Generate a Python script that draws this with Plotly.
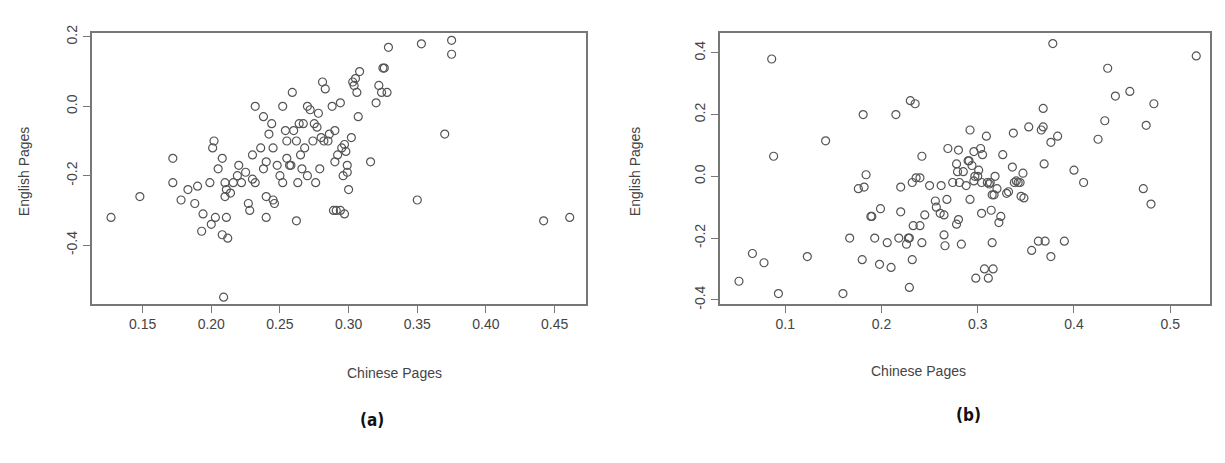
import plotly.graph_objects as go

a_x = [0.127,0.148,0.172,0.172,0.178,0.183,0.188,0.19,0.194,0.193,0.199,0.2,0.203,0.201,0.202,0.205,0.208,0.208,0.21,0.21,0.211,0.212,0.211,0.209,0.214,0.216,0.219,0.22,0.222,0.225,0.227,0.228,0.23,0.23,0.232,0.232,0.236,0.238,0.24,0.24,0.24,0.238,0.242,0.244,0.245,0.245,0.246,0.248,0.25,0.252,0.252,0.254,0.255,0.255,0.257,0.258,0.259,0.26,0.262,0.262,0.263,0.264,0.265,0.266,0.267,0.268,0.27,0.27,0.272,0.274,0.275,0.276,0.277,0.278,0.279,0.28,0.281,0.282,0.283,0.285,0.286,0.288,0.289,0.29,0.291,0.29,0.292,0.294,0.294,0.295,0.296,0.297,0.297,0.298,0.299,0.299,0.3,0.302,0.303,0.304,0.305,0.306,0.307,0.308,0.316,0.32,0.322,0.324,0.325,0.326,0.328,0.329,0.35,0.353,0.37,0.375,0.375,0.442,0.461]
a_y = [-0.32,-0.26,-0.15,-0.22,-0.27,-0.24,-0.28,-0.23,-0.31,-0.36,-0.22,-0.34,-0.32,-0.12,-0.1,-0.18,-0.15,-0.37,-0.22,-0.26,-0.32,-0.38,-0.24,-0.55,-0.25,-0.22,-0.2,-0.17,-0.22,-0.19,-0.28,-0.3,-0.21,-0.14,0.0,-0.22,-0.12,-0.18,-0.32,-0.26,-0.16,-0.03,-0.08,-0.05,-0.12,-0.27,-0.28,-0.17,-0.2,0.0,-0.22,-0.07,-0.15,-0.1,-0.17,-0.17,0.04,-0.07,-0.1,-0.33,-0.22,-0.05,-0.14,-0.18,-0.05,-0.12,-0.2,0.0,-0.01,-0.1,-0.05,-0.22,-0.06,-0.02,-0.18,-0.09,0.07,-0.1,0.05,-0.1,-0.08,0.0,-0.3,-0.07,-0.3,-0.16,-0.14,0.01,-0.3,-0.12,-0.2,-0.11,-0.31,-0.13,-0.17,-0.19,-0.24,-0.09,0.07,0.06,0.08,0.04,-0.03,0.1,-0.16,0.01,0.06,0.04,0.11,0.11,0.04,0.17,-0.27,0.18,-0.08,0.19,0.15,-0.33,-0.32]

b_x = [0.052,0.066,0.078,0.086,0.088,0.093,0.123,0.142,0.16,0.167,0.176,0.18,0.181,0.182,0.184,0.189,0.19,0.193,0.198,0.199,0.206,0.21,0.215,0.218,0.22,0.22,0.226,0.228,0.229,0.229,0.23,0.232,0.232,0.233,0.235,0.236,0.24,0.242,0.24,0.242,0.245,0.25,0.256,0.257,0.261,0.262,0.265,0.265,0.266,0.268,0.269,0.274,0.278,0.278,0.279,0.28,0.28,0.281,0.283,0.285,0.288,0.29,0.291,0.292,0.292,0.294,0.296,0.296,0.297,0.298,0.3,0.301,0.303,0.304,0.304,0.305,0.307,0.309,0.31,0.311,0.312,0.313,0.314,0.315,0.315,0.316,0.317,0.318,0.32,0.322,0.324,0.326,0.33,0.332,0.336,0.337,0.338,0.34,0.342,0.344,0.345,0.347,0.348,0.353,0.356,0.363,0.366,0.368,0.368,0.369,0.37,0.376,0.378,0.376,0.383,0.39,0.4,0.41,0.425,0.432,0.435,0.443,0.458,0.472,0.475,0.48,0.483,0.527]
b_y = [-0.34,-0.25,-0.28,0.38,0.065,-0.38,-0.26,0.115,-0.38,-0.2,-0.04,-0.27,0.2,-0.035,0.005,-0.13,-0.13,-0.2,-0.285,-0.105,-0.215,-0.295,0.2,-0.2,-0.035,-0.115,-0.22,-0.2,-0.2,-0.36,0.245,-0.27,-0.02,-0.16,0.235,-0.005,-0.16,0.065,-0.005,-0.215,-0.125,-0.03,-0.08,-0.1,-0.12,-0.03,-0.125,-0.19,-0.225,-0.075,0.09,-0.02,-0.155,0.04,0.015,0.085,-0.14,-0.02,-0.22,0.015,-0.03,0.05,0.05,0.15,-0.075,0.035,-0.015,0.08,0.0,-0.33,0.0,0.02,0.09,-0.02,-0.12,0.07,-0.3,0.13,-0.02,-0.33,-0.025,-0.02,-0.11,-0.06,-0.215,-0.3,-0.06,0.0,-0.04,-0.15,-0.13,0.07,-0.055,-0.05,0.03,0.14,-0.02,-0.015,-0.02,-0.02,-0.065,0.01,-0.07,0.16,-0.24,-0.21,0.15,0.16,0.22,0.04,-0.21,-0.26,0.43,0.11,0.13,-0.21,0.02,-0.02,0.12,0.18,0.35,0.26,0.275,-0.04,0.165,-0.09,0.235,0.39]

a_xticks = [0.15,0.20,0.25,0.30,0.35,0.40,0.45]
a_yticks = [-0.4,-0.2,0.0,0.2]
b_xticks = [0.1,0.2,0.3,0.4,0.5]
b_yticks = [-0.4,-0.2,0.0,0.2,0.4]

gray = "#555"
mk = dict(symbol="circle-open", size=8, color=gray, line=dict(width=1.2))
fig = go.Figure()
fig.add_trace(go.Scatter(x=a_x, y=a_y, mode="markers", marker=mk, xaxis="x", yaxis="y"))
fig.add_trace(go.Scatter(x=b_x, y=b_y, mode="markers", marker=mk, xaxis="x2", yaxis="y2"))

ax = dict(showgrid=False, zeroline=False, showline=True, mirror=True, linecolor="#777", linewidth=1.5,
          ticks="outside", ticklen=7, tickcolor="#777", tickfont=dict(family="Liberation Sans", size=14, color="#444"))
ydom = [0.359, 0.962]
fig.update_layout(
    width=1225, height=463, margin=dict(l=0, r=0, t=0, b=0), showlegend=False,
    plot_bgcolor="white", paper_bgcolor="white",
    xaxis=dict(ax, domain=[0.0684, 0.472], range=[0.113, 0.473], tickvals=a_xticks, ticktext=[f"{v:.2f}" for v in a_xticks], anchor="y"),
    yaxis=dict(ax, domain=ydom, range=[-0.569, 0.211], tickvals=a_yticks, ticktext=[f"{v:.1f}" for v in a_yticks], tickangle=-90, anchor="x"),
    xaxis2=dict(ax, domain=[0.581, 0.981], range=[0.032, 0.541], tickvals=b_xticks, ticktext=[f"{v:.1f}" for v in b_xticks], anchor="y2"),
    yaxis2=dict(ax, domain=ydom, range=[-0.413, 0.464], tickvals=b_yticks, ticktext=[f"{v:.1f}" for v in b_yticks], tickangle=-90, anchor="x2"),
)
tf = dict(family="Liberation Sans", size=14, color="#444")
ann = [
    dict(x=337/1225, y=1-378/463, text="Chinese Pages"),
    dict(x=960/1225, y=1-376/463, text="Chinese Pages"),
    dict(x=6/1225, y=1-160/463, text="English Pages", textangle=-90),
    dict(x=627/1225, y=1-160/463, text="English Pages", textangle=-90),
]
for a in ann:
    fig.add_annotation(xref="paper", yref="paper", showarrow=False, font=tf, **a)
bf = dict(family="DejaVu Sans Condensed", size=17, color="#111")
fig.add_annotation(xref="paper", yref="paper", x=350/1225, y=1-429/463, text="<b>(a)</b>", showarrow=False, font=bf)
fig.add_annotation(xref="paper", yref="paper", x=975/1225, y=1-424/463, text="<b>(b)</b>", showarrow=False, font=bf)
fig.write_html("out.html")
